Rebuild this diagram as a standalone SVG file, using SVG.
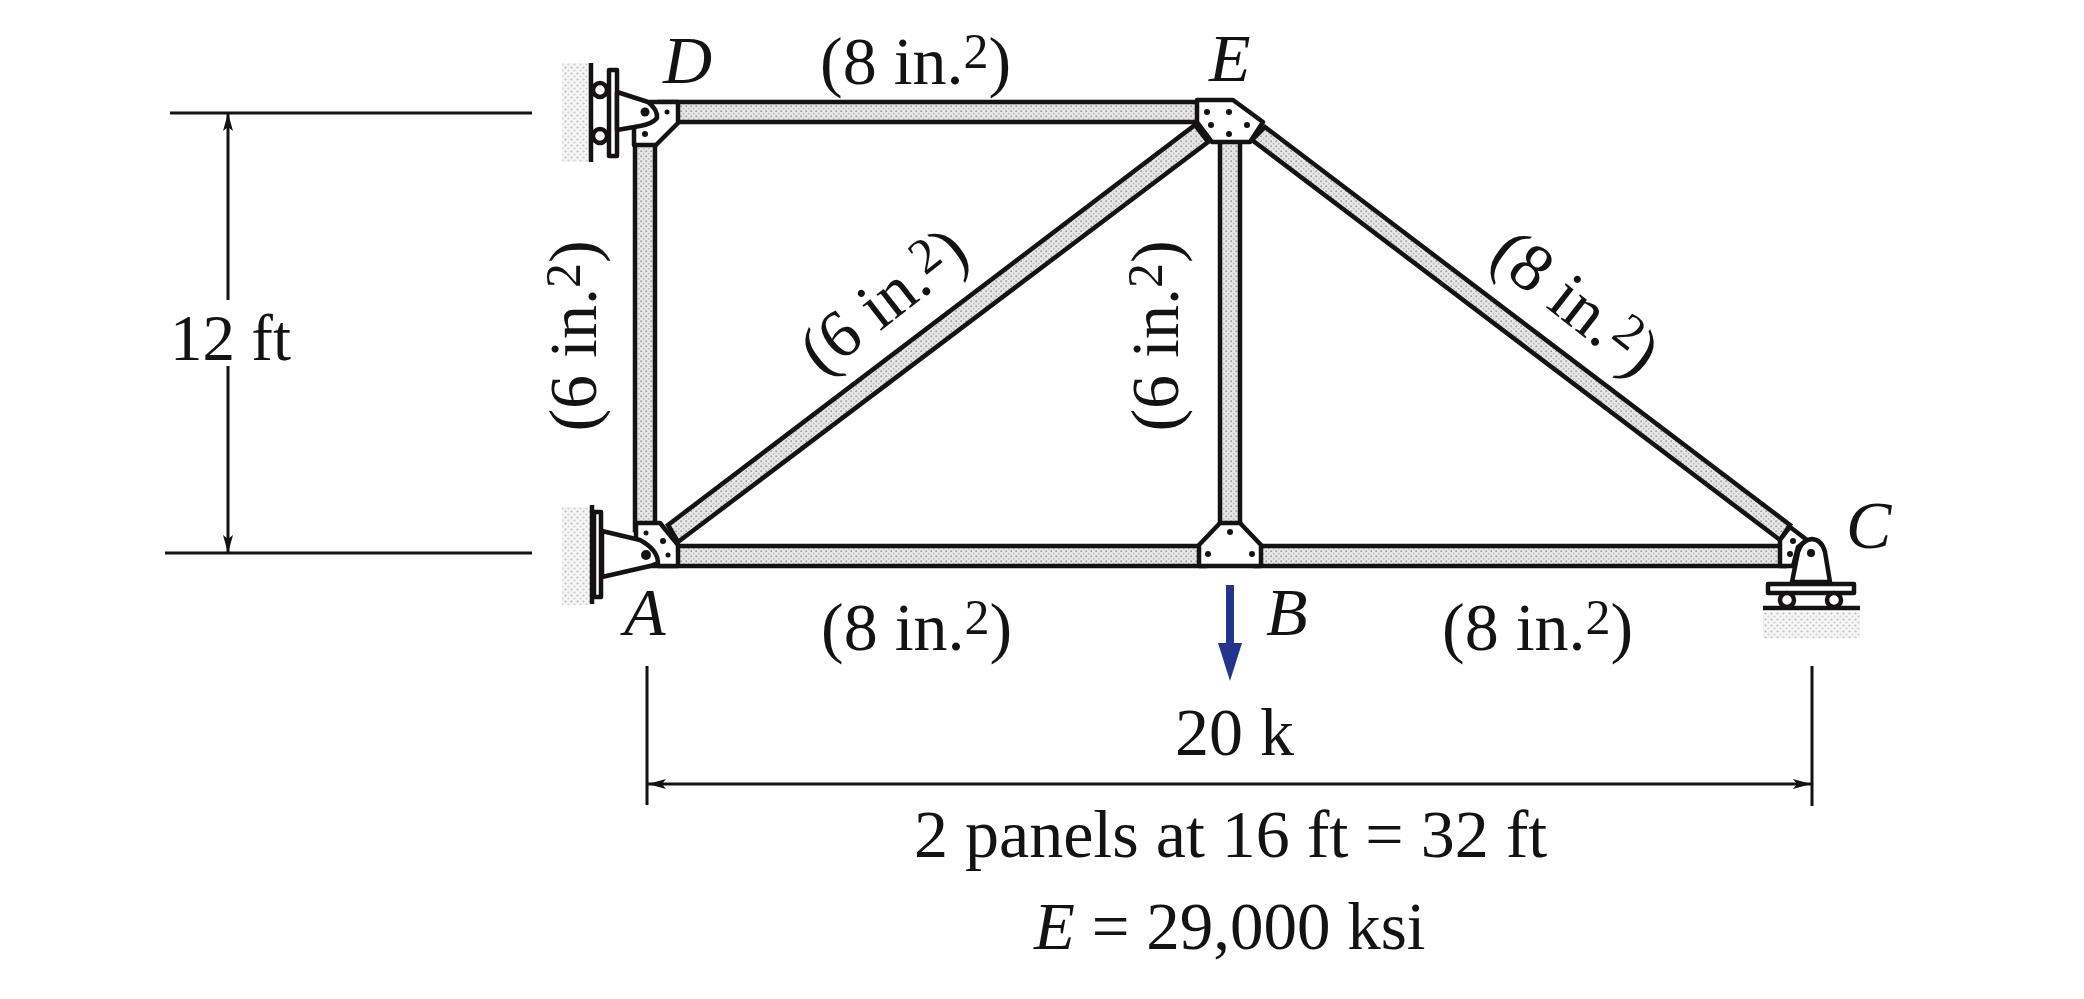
<svg xmlns="http://www.w3.org/2000/svg" width="2084" height="999" viewBox="0 0 2084 999">
<style>
.t{font-family:"Liberation Serif","Times New Roman",serif;font-size:68px;fill:#141213}
.i{font-style:italic}
.m{fill:url(#st);stroke:#141213;stroke-width:4.5;stroke-linejoin:miter}
.g{fill:#fff;stroke:#141213;stroke-width:4.5;stroke-linejoin:round}
.d{fill:#141213;stroke:none}
.w{fill:url(#wa);stroke:none}
.l{fill:none;stroke:#141213;stroke-width:3}
.b{fill:none;stroke:#141213;stroke-width:4.5}
.s{font-size:50px}
</style>
<defs>
<pattern id="st" width="5" height="5" patternUnits="userSpaceOnUse">
<rect width="5" height="5" fill="#e8e8e8"/>
<circle cx="1.2" cy="1.2" r="1" fill="#a0a0a0"/>
<circle cx="3.7" cy="3.7" r="1" fill="#bcbcbc"/>
</pattern>
<pattern id="wa" width="6" height="6" patternUnits="userSpaceOnUse">
<rect width="6" height="6" fill="#f6f6f6"/>
<circle cx="1.5" cy="1.5" r="1.1" fill="#bcbcbc"/>
<circle cx="4.5" cy="4.5" r="1.1" fill="#cfcfcf"/>
</pattern>
<marker id="ah" viewBox="0 0 18 12" refX="18" refY="6" markerWidth="18" markerHeight="12" markerUnits="userSpaceOnUse" orient="auto-start-reverse">
<path d="M0 1 L18 6 L0 11 L4 6 Z" fill="#141213"/>
</marker>
</defs>
<rect width="2084" height="999" fill="#fff"/>

<g id="connectors">
<rect class="m" x="660" y="102" width="545" height="20"/>
<rect class="m" x="635" y="130" width="20" height="400"/>
<rect class="m" x="660" y="546" width="545" height="20"/>
<rect class="m" x="1255" y="546" width="530" height="20"/>
<rect class="m" x="1220" y="130" width="20" height="400"/>
<polygon class="m" points="668,525 1195,125 1208,142 678,542"/>
<polygon class="m" points="1265,127 1790,525 1780,540 1252,140"/>
</g>

<g id="node-D">
<rect class="w" x="562" y="63" width="28" height="99"/>
<path class="b" d="M591 63V162"/>
<circle class="g" cx="600" cy="90" r="7"/>
<circle class="g" cx="600" cy="136" r="7"/>
<rect class="g" x="609" y="70" width="8" height="86"/>
<polygon class="g" points="650,102 678,102 678,123 656,145 634,145 634,124"/>
<path class="g" d="M617 92L648 102Q658 110 657 118Q652 124 640 126L617 130Z"/>
<circle class="d" cx="645" cy="112" r="4.5"/>
<circle class="d" cx="667" cy="112" r="2.5"/>
<circle class="d" cx="645" cy="134" r="3"/>
<text class="t i" x="663" y="83">D</text>
</g>

<g id="node-E">
<polygon class="g" points="1197,100 1233,100 1263,122 1250,142 1212,142 1197,122"/>
<circle class="d" cx="1207" cy="112" r="3"/>
<circle class="d" cx="1229" cy="112" r="3"/>
<circle class="d" cx="1211" cy="125" r="3"/>
<circle class="d" cx="1247" cy="125" r="3"/>
<circle class="d" cx="1229" cy="134" r="3"/>
<text class="t i" x="1209" y="81">E</text>
</g>

<g id="node-A">
<rect class="w" x="562" y="507" width="30" height="98"/>
<path class="b" d="M592 505V604"/>
<rect class="g" x="594" y="512" width="7" height="85"/>
<polygon class="g" points="636,523 660,523 678,545 678,566 636,566"/>
<path class="g" d="M602 531L640 540Q658 550 658 563L650 566L602 577Z"/>
<circle class="d" cx="646" cy="555" r="5"/>
<circle class="d" cx="646" cy="533" r="2.5"/>
<circle class="d" cx="663" cy="541" r="3"/>
<circle class="d" cx="668" cy="555" r="2.5"/>
<text class="t i" x="624" y="635">A</text>
</g>

<g id="node-B">
<polygon class="g" points="1199,566 1199,545 1220,523 1240,523 1261,545 1261,566"/>
<circle class="d" cx="1230" cy="532" r="3"/>
<circle class="d" cx="1208" cy="554" r="3"/>
<circle class="d" cx="1252" cy="554" r="3"/>
<text class="t i" x="1266" y="635">B</text>
</g>

<g id="node-C">
<polygon class="g" points="1790,527 1807,540 1798,547 1793,566 1780,566 1780,540"/>
<circle class="d" cx="1793" cy="541" r="3"/>
<circle class="d" cx="1790" cy="554" r="3"/>
<path class="g" d="M1792 582L1798 552Q1802 540 1812 539Q1822 540 1825 552L1830 582Z"/>
<circle class="d" cx="1811" cy="553" r="4"/>
<rect class="g" x="1768" y="584" width="86" height="9"/>
<circle class="g" cx="1787" cy="600" r="7"/>
<circle class="g" cx="1834" cy="600" r="7"/>
<path class="b" d="M1763 608H1860"/>
<rect class="w" x="1763" y="612" width="97" height="26"/>
<text class="t i" x="1846" y="548">C</text>
</g>

<g id="load">
<rect x="1226" y="585" width="8" height="60" fill="#21358c"/>
<polygon points="1218,643 1242,643 1230,681" fill="#21358c"/>
</g>

<g id="dimensions">
<path class="l" d="M170 113H532M165 553H532"/>
<path class="l" d="M228 113V300M228 366V553" marker-start="url(#ah)" marker-end="url(#ah)"/>
<path class="l" d="M647 666V805M1812 666V806"/>
<path class="l" d="M648 784H1811" marker-start="url(#ah)" marker-end="url(#ah)"/>
</g>

<g id="labels">
<text class="t" style="font-size:65px" x="170" y="360">12 ft</text>
<text class="t" x="820" y="84">(8 in.<tspan class="s" dy="-16">2</tspan><tspan dy="16">)</tspan></text>
<text class="t" x="821" y="650">(8 in.<tspan class="s" dy="-16">2</tspan><tspan dy="16">)</tspan></text>
<text class="t" x="1442" y="650">(8 in.<tspan class="s" dy="-16">2</tspan><tspan dy="16">)</tspan></text>
<text class="t" text-anchor="middle" transform="translate(596,336) rotate(-90)">(6 in.<tspan class="s" dy="-16">2</tspan><tspan dy="16">)</tspan></text>
<text class="t" text-anchor="middle" transform="translate(1178,336) rotate(-90)">(6 in.<tspan class="s" dy="-16">2</tspan><tspan dy="16">)</tspan></text>
<text class="t" text-anchor="middle" transform="translate(897,318) rotate(-38)">(6 in.<tspan class="s" dy="-16">2</tspan><tspan dy="16">)</tspan></text>
<text class="t" text-anchor="middle" transform="translate(1562,320) rotate(38)">(8 in.<tspan class="s" dy="-16">2</tspan><tspan dy="16">)</tspan></text>
<text class="t" x="1175" y="755">20 k</text>
<text class="t" x="914" y="857">2 panels at 16 ft = 32 ft</text>
<text class="t" style="font-size:67px" x="1034" y="949"><tspan class="i">E</tspan> = 29,000 ksi</text>
</g>
</svg>
